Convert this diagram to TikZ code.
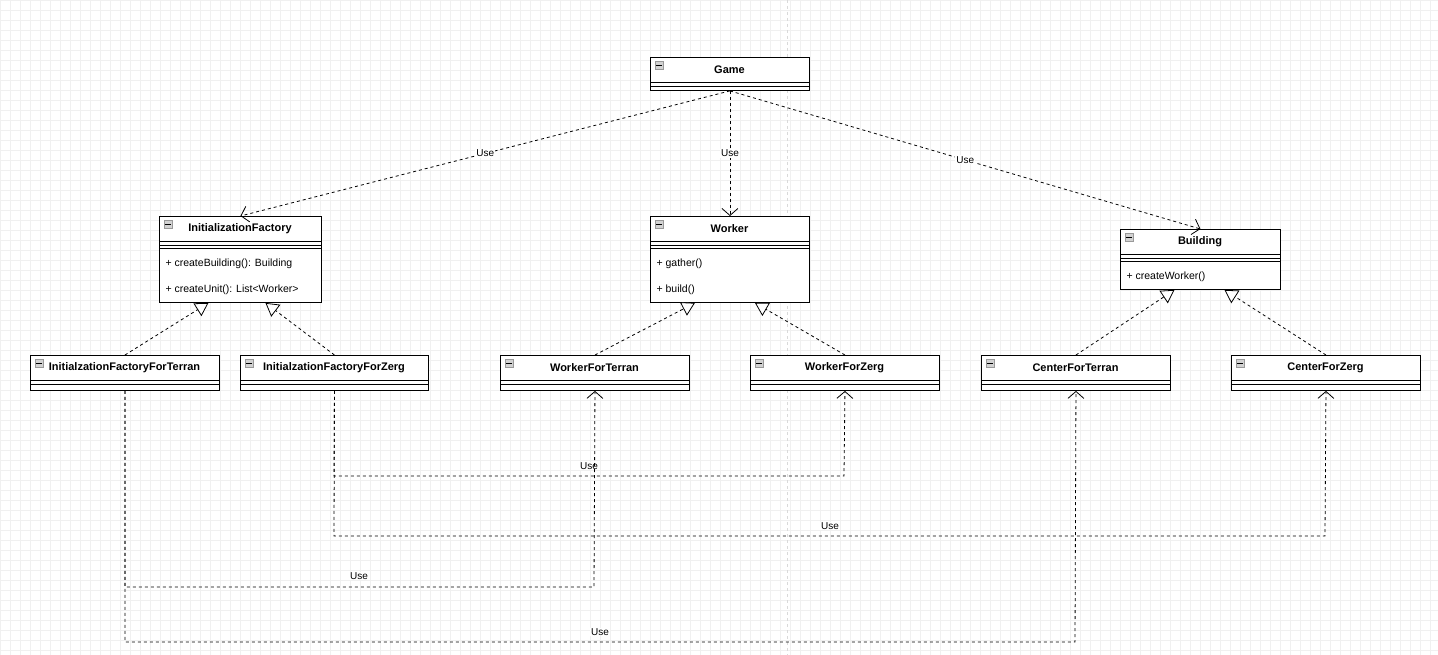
\documentclass[tikz,border=0pt]{standalone}
\usepackage{fontspec}
\setmainfont{Liberation Sans}
\usetikzlibrary{arrows.meta}
\begin{document}
\begin{tikzpicture}[x=1pt,y=-1pt,
  cls/.style={draw,line width=0.9pt,fill=white,anchor=north west,inner sep=0pt},
  ttl/.style={font=\fontsize{11}{13}\selectfont\bfseries},
  mth/.style={font=\fontsize{10.5}{12}\selectfont,anchor=west},
  dep/.style={dashed,line width=0.8pt,-{Straight Barb[length=7pt,width=16pt]}},
  inh/.style={dashed,line width=0.8pt,-{Triangle[open,length=13pt,width=15pt,fill=white]}},
  lbl/.style={fill=white,inner sep=1pt,font=\fontsize{10}{12}\selectfont},
  mini/.style={draw=gray!80,fill=gray!35,line width=0.5pt,minimum size=8pt,inner sep=0pt}]
\useasboundingbox (0,0) rectangle (1438,655);
\fill[white] (0,0) rectangle (1438,655);
\foreach \i in {0,10,...,1430} \draw[gray!12,line width=0.5pt] (\i,0) -- (\i,655);
\foreach \j in {0,10,...,650} \draw[gray!12,line width=0.5pt] (0,\j) -- (1438,\j);
\draw[gray!30,dashed,line width=0.5pt] (787,0) -- (787,655);
\newcommand{\umlcls}[6]{%
  \node[cls,minimum width=#4-#2,minimum height=#5-#3] (#1) at (#2,#3) {};
  \node[ttl] (#1t) at ({(#2+#4)/2},#3+13) {#6};
  \node[mini] (#1m) at (#2+9,#3+8) {};
  \draw[line width=0.5pt] (#2+6,#3+8) -- (#2+12,#3+8);
  \draw[line width=0.9pt] (#2,#3+25) -- (#4,#3+25) (#2,#3+29) -- (#4,#3+29);
}
\umlcls{game}{650}{57}{809}{90}{Game}
\umlcls{ifac}{159}{216}{321}{302}{InitializationFactory}
\draw[line width=0.9pt] (159,248) -- (321,248);
\node[mth] (if1) at (162,264) {+ createBuilding(): Building};
\node[mth] (if2) at (162,290) {+ createUnit(): List<Worker>};
\umlcls{work}{650}{216}{809}{302}{Worker}
\draw[line width=0.9pt] (650,248) -- (809,248);
\node[mth] (w1) at (653,264) {+ gather()};
\node[mth] (w2) at (653,290) {+ build()};
\umlcls{bld}{1120}{229}{1280}{289}{Building}
\draw[line width=0.9pt] (1120,261) -- (1280,261);
\node[mth] (b1) at (1123,277) {+ createWorker()};
\umlcls{ift}{30}{355}{219}{390}{InitialzationFactoryForTerran}
\umlcls{ifz}{240}{355}{428}{390}{InitialzationFactoryForZerg}
\umlcls{wft}{500}{355}{689}{390}{WorkerForTerran}
\umlcls{wfz}{750}{355}{939}{390}{WorkerForZerg}
\umlcls{cft}{981}{355}{1170}{390}{CenterForTerran}
\umlcls{cfz}{1231}{355}{1420}{390}{CenterForZerg}
\draw[dep] (game.south) -- (ifac.north) node[lbl,pos=0.5] {Use};
\draw[dep] (game.south) -- (work.north) node[lbl,pos=0.5] {Use};
\draw[dep] (game.south) -- (bld.north) node[lbl,pos=0.5] {Use};
\draw[inh] (ift.north) -- ([xshift=-32pt]ifac.south);
\draw[inh] ([xshift=-0pt]ifz.north) -- ([xshift=25pt]ifac.south);
\draw[inh] (wft.north) -- ([xshift=-35pt]work.south);
\draw[inh] (wfz.north) -- ([xshift=25pt]work.south);
\draw[inh] (cft.north) -- ([xshift=-26pt]bld.south);
\draw[inh] (cfz.north) -- ([xshift=24pt]bld.south);
\draw[dep] (ifz.south) -- (334,476) -- (844,476) -- (wfz.south);
\node[lbl] (u1) at (589,466) {Use};
\draw[dep] (ifz.south) -- (334,536) -- (1325,536) -- (cfz.south);
\node[lbl] (u2) at (830,526) {Use};
\draw[dep] (ift.south) -- (125,587) -- (594,587) -- (wft.south);
\node[lbl] (u3) at (359,576) {Use};
\draw[dep] (ift.south) -- (125,642) -- (1075,642) -- (cft.south);
\node[lbl] (u4) at (600,632) {Use};
\end{tikzpicture}
\end{document}
